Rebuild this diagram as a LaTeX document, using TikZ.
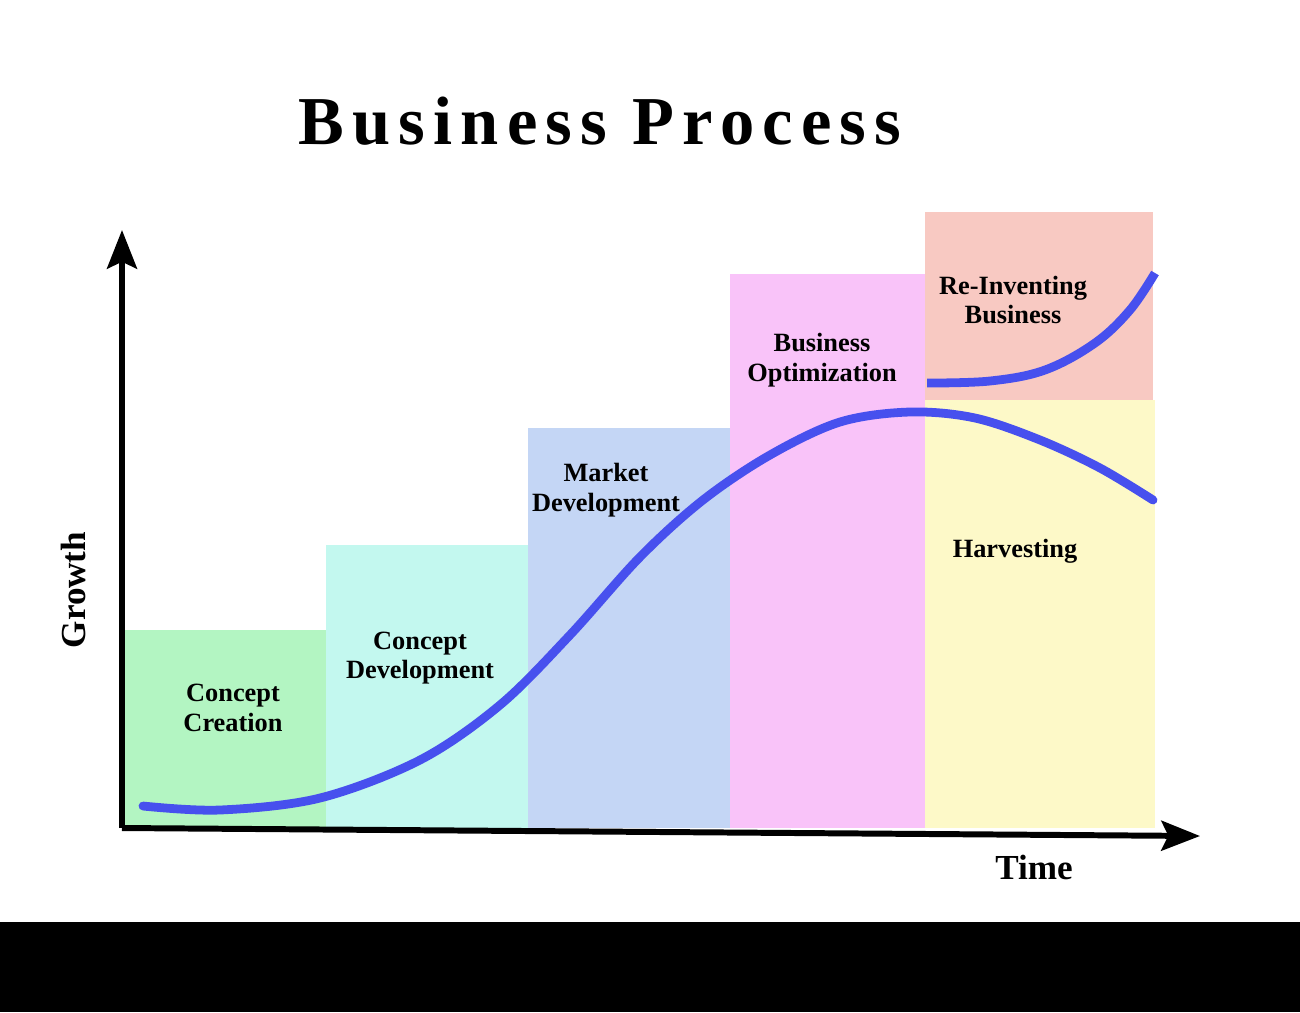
\documentclass[tikz,border=0pt]{standalone}
\usepackage{fontspec}
\setmainfont{Liberation Serif}
\usetikzlibrary{arrows.meta}
\definecolor{creation}{HTML}{B3F5C2}
\definecolor{conceptdev}{HTML}{C3F8EF}
\definecolor{marketdev}{HTML}{C4D6F5}
\definecolor{optim}{HTML}{F9C3F9}
\definecolor{reinvent}{HTML}{F8C9C2}
\definecolor{harvest}{HTML}{FDF9C8}
\definecolor{curveblue}{HTML}{4750EE}
\tikzset{>=latex,
  stagetext/.style={font=\bfseries\fontsize{15}{17}\selectfont, align=center, inner sep=0pt},
  axistext/.style={font=\bfseries\fontsize{20}{24}\selectfont, inner sep=0pt},
  axisline/.style={line width=3.4pt, line join=round, -{Stealth[length=22pt,width=17pt,inset=4pt]}},
  growthline/.style={curveblue, line width=5pt, line cap=round}
}
\begin{document}
\begin{tikzpicture}[x=0.02cm,y=-0.02cm]
\useasboundingbox (0,0) rectangle (1300,1012);
% footer band
\fill[black] (0,922) rectangle (1300,1012);
% title
\node[inner sep=0pt, font=\bfseries\fontsize{39}{46}\selectfont\addfontfeatures{LetterSpace=12}] (title) at (600,121) {Business Process};
% stages
\fill[creation] (125,630) rectangle (326,828);
\fill[conceptdev] (326,545) rectangle (528,828);
\fill[marketdev] (528,428) rectangle (730,828);
\fill[optim] (730,274) rectangle (925,828);
\fill[harvest] (925,400) rectangle (1155,828);
\fill[reinvent] (925,212) rectangle (1153,400);
\node[stagetext] (creationtxt) at (233,708) {Concept\\Creation};
\node[stagetext] (conceptdevtxt) at (420,658) {Concept\\Development};
\node[stagetext] (marketdevtxt) at (606,490) {Market\\Development};
\node[stagetext] (optimtxt) at (822,360) {Business\\Optimization};
\node[stagetext] (reinventtxt) at (1013,300) {Re-Inventing\\Business};
\node[stagetext] (harvesttxt) at (1015,551) {Harvesting};
% growth curves
\draw[growthline] plot[smooth, tension=0.55] coordinates {(143,806) (220,810) (320,798) (420,760) (500,705) (570,635) (640,557) (703,500) (770,455) (840,422) (910,412) (975,418) (1040,440) (1100,468) (1153,500)};
\draw[growthline, line cap=butt] plot[smooth, tension=0.6] coordinates {(927,383) (990,381) (1045,370) (1095,343) (1130,310) (1155,273)};
% axes
\coordinate (O) at (122,828);
\coordinate (ytop) at (122,230);
\coordinate (xend) at (1200,836);
\draw[axisline] (O) -- (ytop);
\draw[axisline] (O) -- (xend);
\node[axistext, rotate=90] (growthtxt) at (73,590) {Growth};
\node[axistext] (timetxt) at (1034,867) {Time};
\end{tikzpicture}
\end{document}
